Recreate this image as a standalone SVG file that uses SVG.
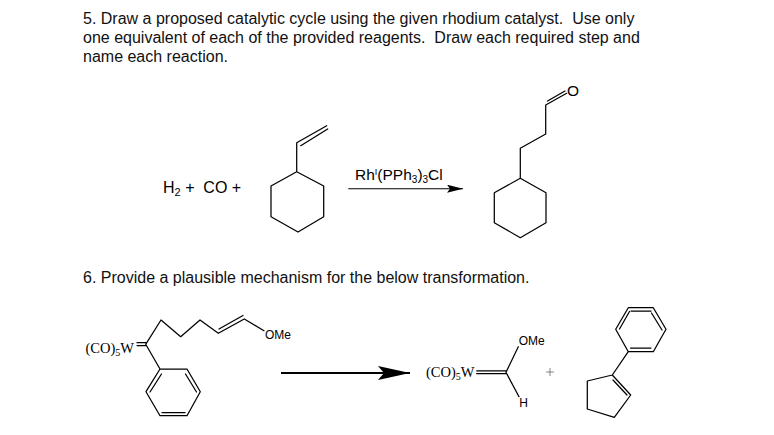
<svg xmlns="http://www.w3.org/2000/svg" width="774" height="435" viewBox="0 0 774 435">
<defs>
<marker id="h1" markerUnits="userSpaceOnUse" markerWidth="16" markerHeight="8" refX="16" refY="4" orient="auto"><path d="M0 0L16 4L0 8L3 4Z" fill="#000"/></marker>
<marker id="h2" markerUnits="userSpaceOnUse" markerWidth="32" markerHeight="14" refX="32" refY="7" orient="auto"><path d="M0 0L32 7L0 14L6 7Z" fill="#000"/></marker>
</defs>
<style>
text{white-space:pre}
.b{fill:none;stroke:#000;stroke-width:1.25;stroke-linejoin:round;stroke-linecap:round}
.q{font-family:"Liberation Sans",Arial,sans-serif;font-size:16px;fill:#111}
.l{font-family:"Liberation Sans",Arial,sans-serif;font-size:15.500px;fill:#000}
.s{font-family:"Liberation Sans",Arial,sans-serif;font-size:12px;fill:#000}
.w{font-family:"Liberation Serif","Times New Roman",serif;font-size:14.500px;fill:#000}
</style>
<rect width="774" height="435" fill="#fff"/>
<g id="questions">
<text class="q" x="83" y="24">5. Draw a proposed catalytic cycle using the given rhodium catalyst.  Use only</text>
<text class="q" x="83" y="43">one equivalent of each of the provided reagents.  Draw each required step and</text>
<text class="q" x="83" y="62">name each reaction.</text>
<text class="q" x="83" y="283">6. Provide a plausible mechanism for the below transformation.</text>
</g>
<g id="reagents"><text class="l" x="163" y="193" font-size="16" style="font-size:16px">H<tspan font-size="11" style="font-size:11px" dy="3">2</tspan><tspan dy="-3"> +  CO +</tspan></text></g>
<g id="vinylcyclohexane">
<path class="b" d="M296.700 171.700L323.700 186V216.700L298 232L271 216.700V186ZM296.700 171.700V142.700L326.700 125.700M300.700 145.700L327.700 129"/>
</g>
<g id="aldehyde">
<path class="b" d="M520.300 178.300L546 192.700V222.700L520.300 237.700L494.300 222.700V192.700ZM520.300 178.300V148.300L545.700 134V105L566.700 93.300M547.500 101L565 91"/>
<text class="l" x="567" y="96">O</text>
</g>
<g id="carbene-substrate">
<text class="w" x="85.500" y="353">(CO)<tspan font-size="10" dy="3">5</tspan><tspan dy="-3">W</tspan></text>
<path class="b" d="M137 342.700H145.700M137 345.500H145.700M145.700 344.300L161 320L180.700 336.700L200 320L218.300 333.300L244.300 319L264 330.700M219 329L243 315.500M145.700 344.300L160 369H187L200.300 391.700L187 415.700H160L146 391.700L160 369M161.500 374L150 392M185.500 374L196.500 392M162 412.500H185"/>
<text class="s" x="265" y="339">OMe</text>
</g>
<g id="carbene-product">
<text class="w" x="426" y="377">(CO)<tspan font-size="10" dy="3">5</tspan><tspan dy="-3">W</tspan></text>
<path class="b" d="M476.700 370.800H506M476.700 373.700H506M506 372.300L518.300 346.700M506 372.300L519 396.700"/>
<text class="s" x="518.700" y="345">OMe</text>
<text class="s" x="519.300" y="407">H</text>
</g>
<g id="plus"><path d="M546 372H554M550 368V376" fill="none" stroke="#555" stroke-width=".7"/></g>
<g id="phenylcyclopentene">
<path class="b" d="M628.300 307.700H653.300L666 329.300L653.300 351.700H628.300L615.700 329.300ZM631 311H651M651.500 313L662 330M651 348H630.500M629.500 311.500L619.500 329M628.300 351.700L612.300 375L630.700 395L614.300 417.300L587.300 409V381L612.300 375M613 380L627 395"/>
</g>
<g id="connectors">
<line x1="348.300" y1="188.700" x2="463" y2="188.700" stroke="#000" stroke-width="1.100" marker-end="url(#h1)"/>
<line x1="281" y1="373" x2="410" y2="373" stroke="#000" stroke-width="2" marker-end="url(#h2)"/>
</g>
<g id="catalyst"><text class="l" x="355" y="180">Rh<tspan font-size="9" dy="-5">I</tspan><tspan dy="5">(PPh</tspan><tspan font-size="10" dy="3">3</tspan><tspan dy="-3">)</tspan><tspan font-size="10" dy="3">3</tspan><tspan dy="-3">Cl</tspan></text></g>
</svg>
